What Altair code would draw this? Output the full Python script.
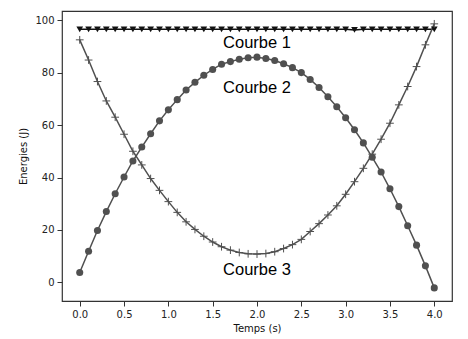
import altair as alt
import pandas as pd

temps = [round(i * 0.1, 1) for i in range(41)]

courbe1 = [96.5, 96.5, 96.5, 96.5, 96.5, 96.5, 96.5, 96.5, 96.5, 96.5,
           96.5, 96.5, 96.5, 96.5, 96.5, 96.5, 96.5, 96.5, 96.5, 96.5,
           96.5, 96.5, 96.5, 96.5, 96.5, 96.5, 96.5, 96.5, 96.5, 96.5,
           96.5, 96.3, 96.5, 96.5, 96.5, 96.5, 96.5, 96.5, 96.5, 96.5, 96.5]

courbe2 = [3.8, 11.9, 19.8, 27.0, 33.8, 40.2, 46.3, 51.6, 56.7, 61.6,
           65.8, 69.7, 73.4, 76.3, 79.0, 81.2, 83.2, 84.2, 85.1, 85.7,
           85.9, 85.4, 84.6, 83.4, 81.9, 80.0, 77.4, 74.3, 70.8, 67.0,
           62.8, 58.2, 53.2, 47.7, 42.1, 35.7, 28.9, 21.6, 14.2, 6.3, -2.1]

courbe3 = [92.5, 84.8, 76.6, 69.2, 63.0, 56.5, 50.0, 44.8, 39.6, 35.1,
           30.8, 26.7, 23.1, 20.2, 17.6, 15.4, 13.6, 12.3, 11.4, 10.9,
           10.8, 11.0, 11.7, 12.9, 14.4, 16.4, 19.4, 22.4, 25.7, 29.2,
           33.6, 38.4, 43.5, 48.9, 54.6, 60.7, 67.7, 74.7, 82.3, 90.6, 98.6]

labels = ["Courbe 1", "Courbe 2", "Courbe 3"]
label_t = [2.0, 2.0, 2.0]
label_e = [91.3, 74.2, 4.6]

df1 = pd.DataFrame({"t": temps, "e": courbe1})
df2 = pd.DataFrame({"t": temps, "e": courbe2})
df3 = pd.DataFrame({"t": temps, "e": courbe3})
dfl = pd.DataFrame({"t": label_t, "e": label_e, "label": labels})

xs = alt.Scale(domain=[-0.2, 4.2], nice=False, zero=False)
ys = alt.Scale(domain=[-7.1, 103.5], nice=False, zero=False)

xax = alt.Axis(values=[0, 0.5, 1, 1.5, 2, 2.5, 3, 3.5, 4], format=".1f",
               title="Temps (s)", grid=False, domain=False, tickSize=5,
               labelPadding=3, titlePadding=4)
yax = alt.Axis(values=[0, 20, 40, 60, 80, 100], format="d",
               title="Energies (J)", grid=False, domain=False, tickSize=5,
               labelPadding=3, titlePadding=6)

X = alt.X("t:Q", scale=xs, axis=xax)
Y = alt.Y("e:Q", scale=ys, axis=yax)

gray = "#505050"

l1 = alt.Chart(df1).mark_line(color="#111111", strokeWidth=1.5).encode(x=X, y=Y)
p1 = alt.Chart(df1).mark_point(shape="triangle-down", filled=True, color="#111111",
                               size=45, opacity=1).encode(x=X, y=Y)
l2 = alt.Chart(df2).mark_line(color=gray, strokeWidth=1.5).encode(x=X, y=Y)
p2 = alt.Chart(df2).mark_point(shape="circle", filled=True, color=gray,
                               size=50, opacity=1).encode(x=X, y=Y)
l3 = alt.Chart(df3).mark_line(color=gray, strokeWidth=1.5).encode(x=X, y=Y)
p3 = alt.Chart(df3).mark_point(shape="M-1,0L1,0M0,-1L0,1", filled=False, color=gray,
                               size=60, strokeWidth=1, opacity=1).encode(x=X, y=Y)
txt = alt.Chart(dfl).mark_text(font="Liberation Sans", fontSize=16.5, color="#000000",
                               baseline="middle", align="center").encode(
    x=X, y=Y, text="label:N")

chart = alt.layer(l1, l2, l3, p1, p2, p3, txt).properties(
    width=390, height=290,
    autosize=alt.AutoSizeParams(type="none"),
    padding={"left": 62, "top": 11, "right": 16, "bottom": 38},
    background="white",
).configure_view(stroke="#333333", strokeWidth=1.2).configure_axis(
    labelFont="DejaVu Sans", labelFontSize=10, labelColor="#222222",
    titleFont="DejaVu Sans", titleFontSize=10, titleColor="#111111",
    titleFontWeight="normal", tickColor="#333333",
)

chart.save("out.html", embed_options={"renderer": "svg", "actions": False})
